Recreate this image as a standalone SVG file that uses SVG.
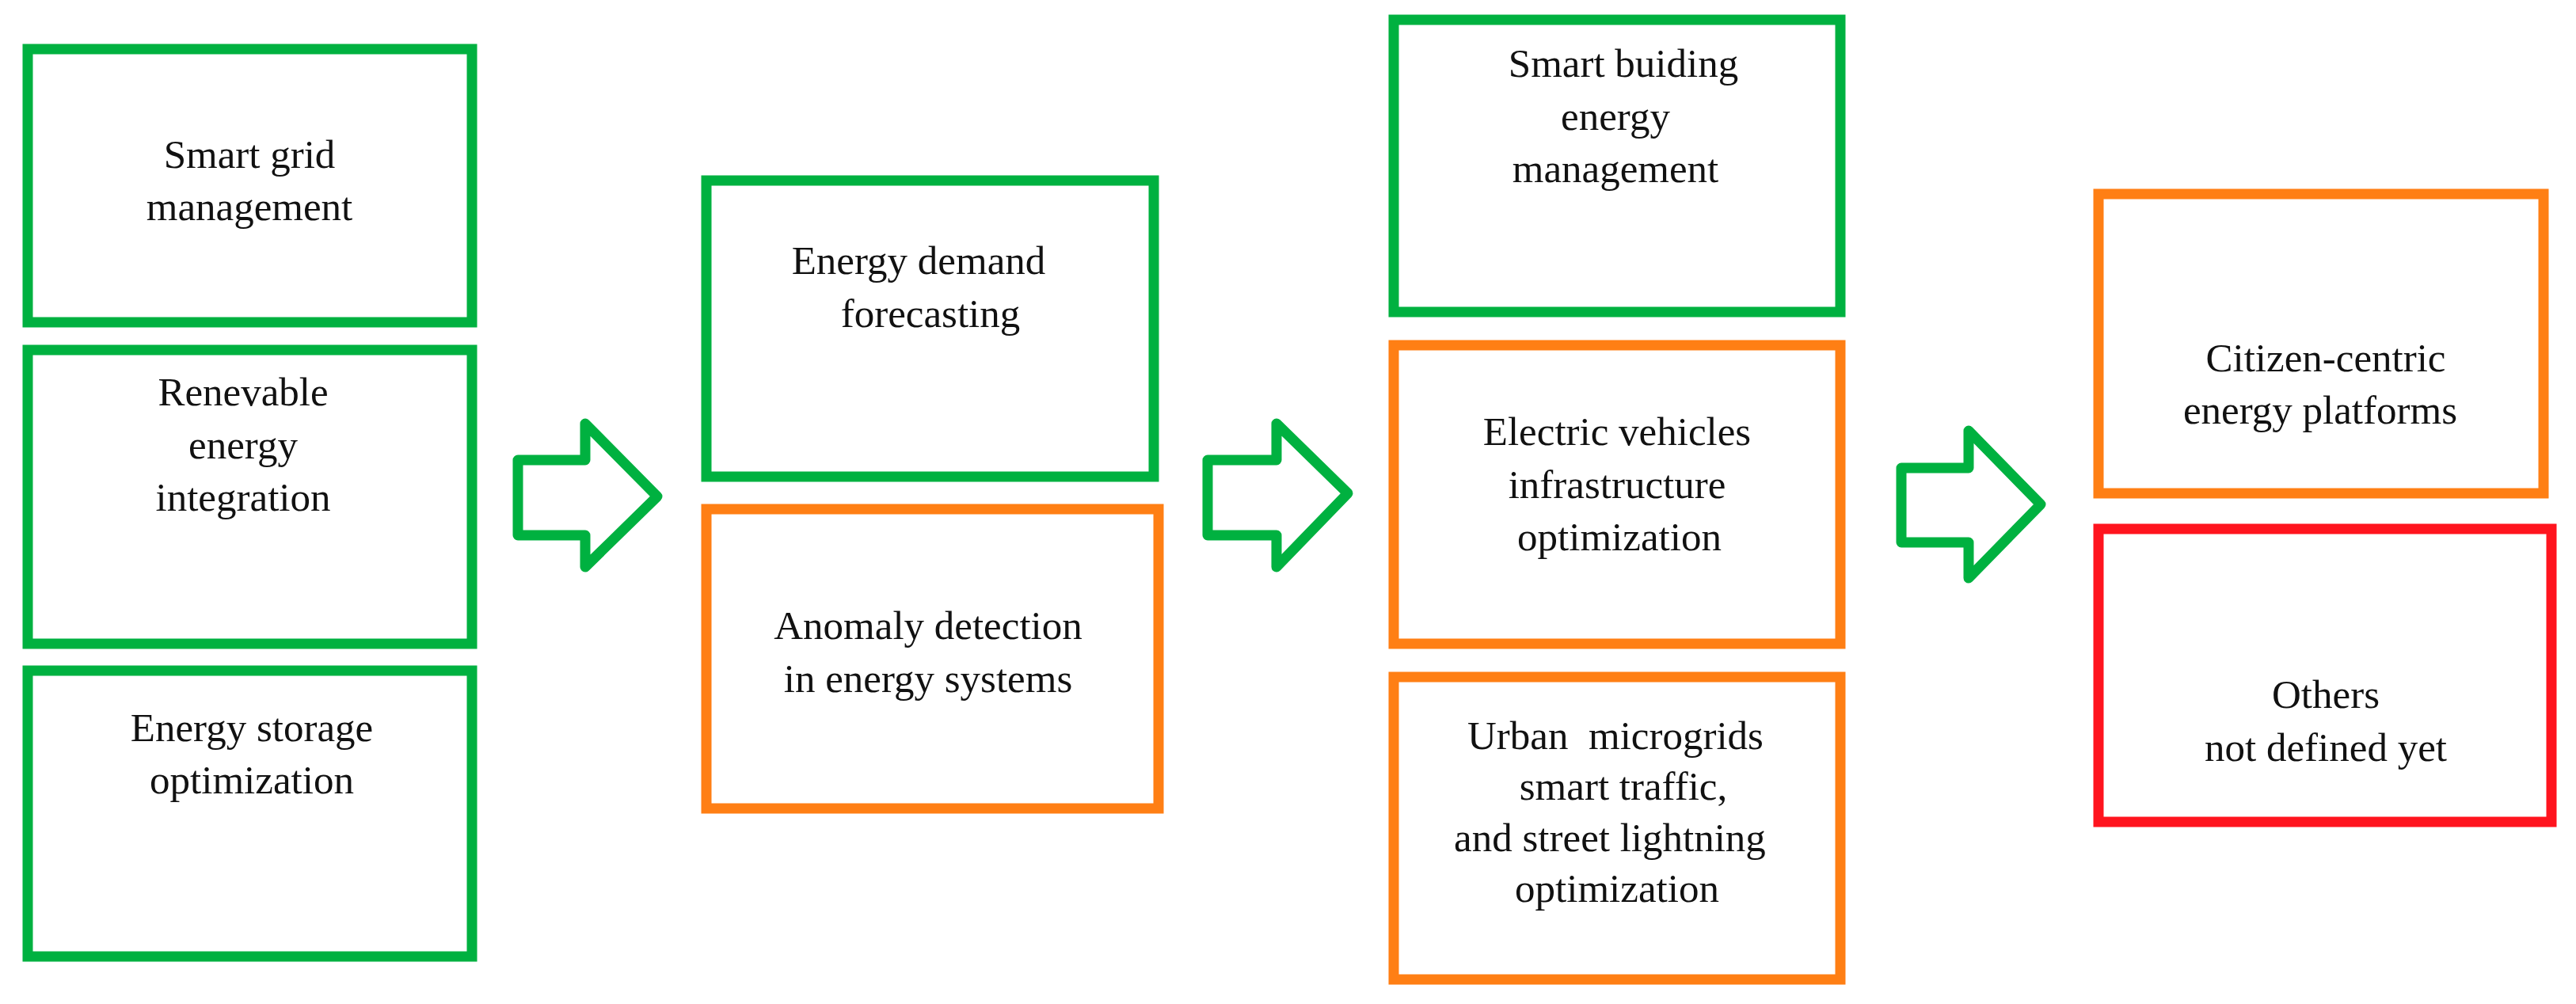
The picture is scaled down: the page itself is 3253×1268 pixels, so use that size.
<svg xmlns="http://www.w3.org/2000/svg" width="3253" height="1268" viewBox="0 0 3253 1268">
<style>
rect{fill:none;stroke-width:13}
.g{stroke:#00B140}.o{stroke:#FF7F14}.r{stroke:#FF141E}
text{font-family:"Liberation Serif","DejaVu Serif",serif;font-size:51px;fill:#111;text-anchor:middle}
.arr{fill:none;stroke:#00B140;stroke-width:13;stroke-linejoin:round}
</style>
<rect width="3253" height="1268" fill="#fff" stroke="none"/>
<g id="n1"><rect class="g" x="35" y="62" width="561" height="345"/><text x="315" y="212">Smart grid</text><text x="315" y="278">management</text></g>
<g id="n2"><rect class="g" x="35" y="442" width="561" height="371"/><text x="307" y="512">Renevable</text><text x="307" y="579">energy</text><text x="307" y="645">integration</text></g>
<g id="n3"><rect class="g" x="35" y="847" width="561" height="361"/><text x="318" y="936">Energy storage</text><text x="318" y="1002">optimization</text></g>
<g id="n4"><rect class="g" x="892" y="228" width="565" height="374"/><text x="1160" y="346">Energy demand</text><text x="1175" y="413">forecasting</text></g>
<g id="n5"><rect class="o" x="892" y="643" width="571" height="378"/><text x="1172" y="807">Anomaly detection</text><text x="1172" y="874">in energy systems</text></g>
<g id="n6"><rect class="g" x="1760" y="25" width="564" height="369"/><text x="2050" y="97">Smart buiding</text><text x="2040" y="164">energy</text><text x="2040" y="230">management</text></g>
<g id="n7"><rect class="o" x="1760" y="436" width="564" height="377"/><text x="2042" y="562">Electric vehicles</text><text x="2042" y="629">infrastructure</text><text x="2045" y="695">optimization</text></g>
<g id="n8"><rect class="o" x="1760" y="855" width="564" height="382"/><text x="2040" y="946" xml:space="preserve">Urban  microgrids</text><text x="2050" y="1010">smart traffic,</text><text x="2033" y="1075">and street lightning</text><text x="2042" y="1139">optimization</text></g>
<g id="n9"><rect class="o" x="2650" y="245" width="562" height="378"/><text x="2937" y="469">Citizen-centric</text><text x="2930" y="535">energy platforms</text></g>
<g id="n10"><rect class="r" x="2650" y="668" width="572" height="370"/><text x="2937" y="894">Others</text><text x="2937" y="961">not defined yet</text></g>
<g id="connectors">
<path class="arr" d="M654 581H739V535L830 627L739 716V676H654Z"/>
<path class="arr" d="M1525 581H1612V535L1702 623L1612 716V676H1525Z"/>
<path class="arr" d="M2401 591H2486V544L2577 637L2486 730V685H2401Z"/>
</g>
</svg>
